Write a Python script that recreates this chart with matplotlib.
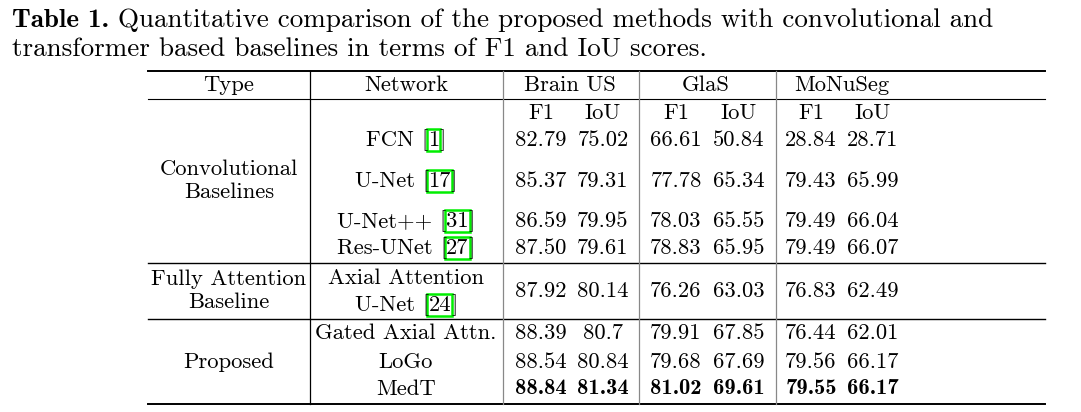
import matplotlib
matplotlib.use("Agg")
import matplotlib.pyplot as plt
from matplotlib.patches import Rectangle

W, H = 1081, 412
fig = plt.figure(figsize=(W/100, H/100), dpi=100)
ax = fig.add_axes([0, 0, 1, 1])
ax.set_xlim(0, W); ax.set_ylim(H, 0); ax.axis('off')
R = ['cmr10', 'DejaVu Serif']
B = ['cmb10', 'DejaVu Serif']
FS = 16.3
TFS = 19.5

datasets = ["Brain US", "GlaS", "MoNuSeg"]
types = ["Convolutional\nBaselines", "Fully Attention\nBaseline", "Proposed"]
networks = [("FCN", "1"), ("U-Net", "17"), ("U-Net++", "31"), ("Res-UNet", "27"),
            ("Axial Attention\nU-Net", "24"), ("Gated Axial Attn.", None), ("LoGo", None), ("MedT", None)]
values = [
    ["82.79", "75.02", "66.61", "50.84", "28.84", "28.71"],
    ["85.37", "79.31", "77.78", "65.34", "79.43", "65.99"],
    ["86.59", "79.95", "78.03", "65.55", "79.49", "66.04"],
    ["87.50", "79.61", "78.83", "65.95", "79.49", "66.07"],
    ["87.92", "80.14", "76.26", "63.03", "76.83", "62.49"],
    ["88.39", "80.7", "79.91", "67.85", "76.44", "62.01"],
    ["88.54", "80.84", "79.68", "67.69", "79.56", "66.17"],
    ["88.84", "81.34", "81.02", "69.61", "79.55", "66.17"],
]
bold_row = 7

fig.canvas.draw()
rend = fig.canvas.get_renderer()

def width(t):
    return t.get_window_extent(rend).width

# title
t1 = ax.text(12, 20, "Table 1.", fontsize=TFS, family=B, va='center', ha='left')
w1 = width(t1)
ax.text(12 + w1 + 9, 20, "Quantitative comparison of the proposed methods with convolutional and",
        fontsize=TFS, family=R, va='center', ha='left')
ax.text(12, 50, "transformer based baselines in terms of F1 and IoU scores.",
        fontsize=TFS, family=R, va='center', ha='left')

x0, x1 = 148, 1045
for y, lw in [(71, 1.4), (99, 0.8), (263, 1.0), (319, 1.0), (404, 1.4)]:
    ax.plot([x0, x1], [y, y], color='black', lw=lw)
ax.plot([310, 310], [71, 404], color='black', lw=0.9)
for x in [503, 639, 776]:
    ax.plot([x, x], [71, 404], color='#888888', lw=0.9)

ax.text(229, 85, "Type", fontsize=FS, family=R, ha='center', va='center')
ax.text(406, 85, "Network", fontsize=FS, family=R, ha='center', va='center')
dcent = [570, 706, 842]
colx = [541, 603, 676, 739, 811, 873]
for d, c in zip(datasets, dcent):
    ax.text(c, 85, d, fontsize=FS, family=R, ha='center', va='center')
for i, x in enumerate(colx):
    ax.text(x, 113, ["F1", "IoU"][i % 2], fontsize=FS, family=R, ha='center', va='center')

rowy = [140, 181, 221, 248, 291, 333, 362, 389]
ax.text(229, 181, types[0], fontsize=FS, family=R, ha='center', va='center', linespacing=1.25)
ax.text(229, 291, types[1], fontsize=FS, family=R, ha='center', va='center', linespacing=1.25)
ax.text(229, 362, types[2], fontsize=FS, family=R, ha='center', va='center')

for i, ((name, cite), y) in enumerate(zip(networks, rowy)):
    if "\n" in name:
        a, b = name.split("\n")
        ax.text(406, 278, a, fontsize=FS, family=R, ha='center', va='center')
        name, y = b, 305
    if cite is None:
        ax.text(406, y, name, fontsize=FS, family=R, ha='center', va='center')
        continue
    parts = [name + " ", "[", cite, "]"]
    ts = [ax.text(0, y, p, fontsize=FS, family=R, ha='left', va='center') for p in parts]
    ws = [width(t) for t in ts]
    total = sum(ws)
    x = 406 - total / 2
    for t, w, p in zip(ts, ws, parts):
        t.set_x(x)
        if p == cite:
            ax.add_patch(Rectangle((x - 1, y - 11), w + 2, 22, fill=False, ec='#00ee00', lw=1.8))
        x += w

for r, (vals, y) in enumerate(zip(values, rowy)):
    for v, x in zip(vals, colx):
        ax.text(x, y, v, fontsize=FS, family=B if r == bold_row else R, ha='center', va='center')

fig.savefig("out.png", dpi=100)
